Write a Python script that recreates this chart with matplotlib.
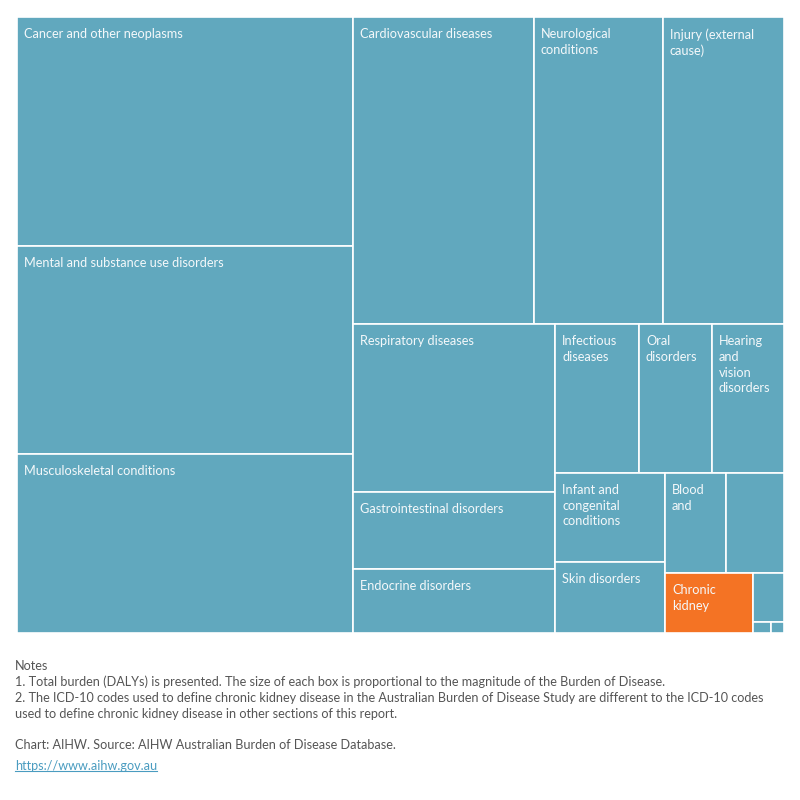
import matplotlib
matplotlib.use("Agg")
import matplotlib.pyplot as plt
from matplotlib.patches import Rectangle

# Total burden (thousand DALYs)
categories = [
    "Cancer and other neoplasms",
    "Mental and substance use disorders",
    "Musculoskeletal conditions",
    "Cardiovascular diseases",
    "Neurological conditions",
    "Injury (external cause)",
    "Respiratory diseases",
    "Gastrointestinal disorders",
    "Endocrine disorders",
    "Infectious diseases",
    "Oral disorders",
    "Hearing and vision disorders",
    "Infant and congenital conditions",
    "Skin disorders",
    "Blood and metabolic disorders",
    "Reproductive and maternal conditions",
    "Chronic kidney disease",
    "Other kidney and urinary diseases",
    "Other 1",
    "Other 2",
]
dalys = [814, 739, 636, 588, 419, 393, 359, 165, 137, 132, 115, 113.5,
         103.6, 82.6, 64.5, 61.4, 55.9, 16.1, 2.1, 1.5]
labels = [
    "Cancer and other neoplasms",
    "Mental and substance use disorders",
    "Musculoskeletal conditions",
    "Cardiovascular diseases",
    "Neurological\nconditions",
    "Injury (external\ncause)",
    "Respiratory diseases",
    "Gastrointestinal disorders",
    "Endocrine disorders",
    "Infectious\ndiseases",
    "Oral\ndisorders",
    "Hearing\nand\nvision\ndisorders",
    "Infant and\ncongenital\nconditions",
    "Skin disorders",
    "Blood\nand",
    "",
    "Chronic\nkidney",
    "",
    "",
    "",
]
highlight = "Chronic kidney disease"
# how many boxes go in each strip of the layout
strip_sizes = [3, 3, 3, 3, 2, 2, 1, 1, 1, 1]

TEAL = "#61a8be"
ORANGE = "#f47324"

W, H = 767.0, 616.0


def layout(values, sizes, x, y, w, h):
    total = sum(values)
    areas = [v / total * w * h for v in values]
    rects = []
    i = 0
    for n in sizes:
        group = areas[i:i + n]
        s = sum(group)
        if w >= h:
            cw = s / h
            yy = y
            for a in group:
                rh = a / cw
                rects.append((x, yy, cw, rh))
                yy += rh
            x += cw
            w -= cw
        else:
            rh = s / w
            xx = x
            for a in group:
                cw = a / rh
                rects.append((xx, y, cw, rh))
                xx += cw
            y += rh
            h -= rh
        i += n
    return rects


fig = plt.figure(figsize=(8, 8), dpi=100)
ax = fig.add_axes([17 / 800, 1 - 633 / 800, W / 800, H / 800])
ax.set_xlim(0, W)
ax.set_ylim(H, 0)
ax.axis("off")

font = ["Lato", "DejaVu Sans"]

for name, lab, (rx, ry, rw, rh) in zip(categories, labels,
                                       layout(dalys, strip_sizes, 0, 0, W, H)):
    color = ORANGE if name == highlight else TEAL
    ax.add_patch(Rectangle((rx, ry), rw, rh, facecolor=color,
                           edgecolor="white", linewidth=1.2))
    if lab:
        ax.annotate(lab, (rx, ry), xytext=(7, -11), textcoords="offset pixels",
                    ha="left", va="top", color="#f4f8fa", fontsize=9.2,
                    family=font, linespacing=1.38)

notes = ("Notes\n"
         "1. Total burden (DALYs) is presented. The size of each box is proportional "
         "to the magnitude of the Burden of Disease.\n"
         "2. The ICD-10 codes used to define chronic kidney disease in the Australian "
         "Burden of Disease Study are different to the ICD-10 codes\n"
         "used to define chronic kidney disease in other sections of this report.\n"
         "\n"
         "Chart: AIHW. Source: AIHW Australian Burden of Disease Database.")
fig.text(15 / 800, 1 - 660 / 800, notes, ha="left", va="top", fontsize=9.1,
         color="#555555", family=font, linespacing=1.36)

url = fig.text(15 / 800, 1 - 760 / 800, "https://www.aihw.gov.au", ha="left",
               va="top", fontsize=9.1, color="#4a9cc0", family=font)
fig.canvas.draw()
bb = url.get_window_extent().transformed(fig.transFigure.inverted())
fig.add_artist(plt.Line2D([bb.x0, bb.x1], [bb.y0 + 0.001, bb.y0 + 0.001],
                          color="#4a9cc0", linewidth=0.8,
                          transform=fig.transFigure))

fig.savefig("out.png", dpi=100)
